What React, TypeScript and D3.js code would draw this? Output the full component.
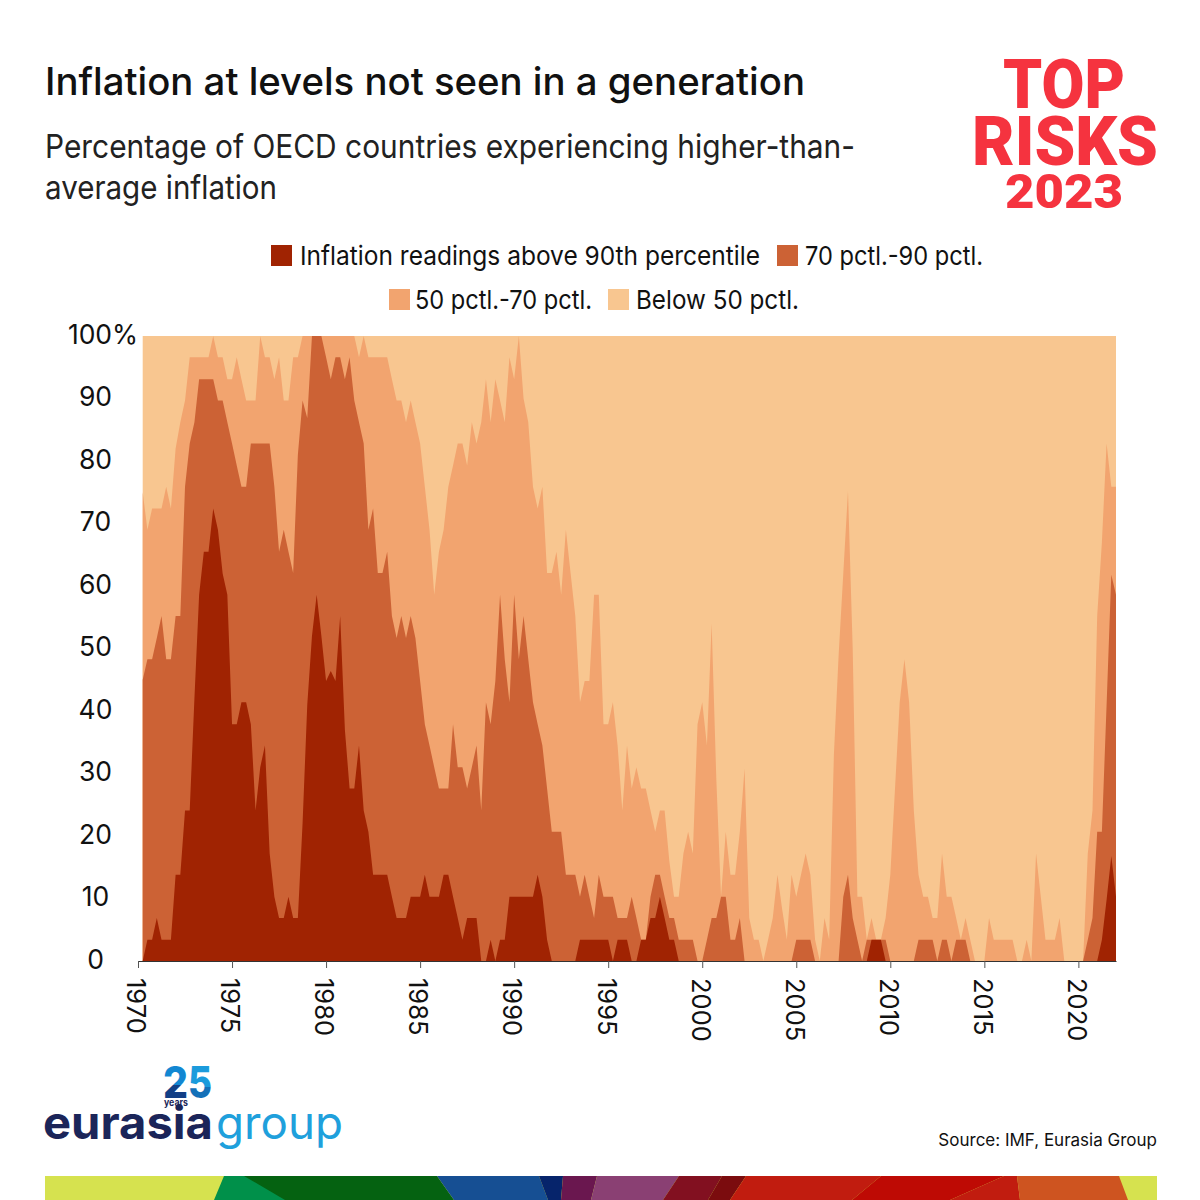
import React, { useEffect, useRef } from "react";
import * as d3 from "d3";

// Cumulative share of OECD countries (%), one reading per quarter from 1970 Q2
const above90 = [
  0, 3.4, 3.4, 6.9, 3.4, 3.4, 3.4, 13.8, 13.8, 24.1,
  24.1, 42, 58.6, 65.5, 65.5, 72.4, 69, 62, 58.6, 37.9,
  37.9, 41.4, 41.4, 37.9, 24.1, 31, 34.5, 17.2, 10.3, 6.9,
  6.9, 10.3, 6.9, 6.9, 22, 41, 52, 58.6, 52, 44.8,
  46.4, 44.8, 55.2, 37, 27.6, 27.6, 34.5, 24.1, 20.7, 13.8,
  13.8, 13.8, 13.8, 10.3, 6.9, 6.9, 6.9, 10.3, 10.3, 10.3,
  13.8, 10.3, 10.3, 10.3, 13.8, 13.8, 10.3, 6.9, 3.4, 6.9,
  6.9, 6.9, 0, 0, 3.4, 0, 3.4, 3.4, 10.3, 10.3,
  10.3, 10.3, 10.3, 10.3, 13.8, 10.3, 3.4, 0, 0, 0,
  0, 0, 0, 3.4, 3.4, 3.4, 3.4, 3.4, 3.4, 3.4,
  0, 3.4, 3.4, 3.4, 0, 0, 3.4, 3.4, 6.9, 6.9,
  10.3, 6.9, 3.4, 3.4, 0, 0, 0, 0, 0, 0,
  0, 0, 0, 0, 0, 0, 0, 0, 0, 0,
  0, 0, 0, 0, 0, 0, 0, 0, 0, 0,
  0, 0, 0, 0, 0, 0, 0, 0, 0, 0,
  0, 0, 0, 0, 0, 3.4, 3.4, 3.4, 0, 0,
  0, 0, 0, 0, 0, 0, 0, 0, 0, 0,
  0, 0, 0, 0, 0, 0, 0, 0, 0, 0,
  0, 0, 0, 0, 0, 0, 0, 0, 0, 0,
  0, 0, 0, 0, 0, 0, 0, 0, 0, 0,
  0, 0, 0, 0, 3.4, 9.8, 16.8, 10.3,
];

const above70 = [
  45, 48.3, 48.3, 51.7, 55.2, 48.3, 48.3, 55.2, 55.2, 75.9,
  82.8, 86.2, 93.1, 93.1, 93.1, 93.1, 89.7, 89.7, 86.2, 82.8,
  79.3, 75.9, 75.9, 82.8, 82.8, 82.8, 82.8, 82.8, 75.9, 65.5,
  69, 65.5, 62.1, 81, 89.7, 86.9, 100, 100, 100, 96.6,
  93.1, 96.6, 96.6, 93.1, 96.6, 89.7, 86.2, 82.8, 69, 72.4,
  62.1, 62.1, 65.5, 55.2, 51.7, 55.2, 51.7, 55.2, 51.7, 44.8,
  37.9, 34.5, 31, 27.6, 27.6, 27.6, 37.9, 31, 31, 27.6,
  31, 34.5, 24.1, 41.4, 37.9, 44.8, 58.6, 48.3, 41.4, 58.6,
  48.3, 55.2, 48.3, 41.4, 37.9, 34.5, 27.6, 20.7, 20.7, 20.7,
  13.8, 13.8, 13.8, 10.3, 13.8, 10.3, 6.9, 13.8, 10.3, 10.3,
  10.3, 6.9, 6.9, 6.9, 10.3, 6.9, 3.4, 3.4, 10.3, 13.8,
  13.8, 10.3, 6.9, 6.9, 3.4, 3.4, 3.4, 3.4, 0, 0,
  3.4, 6.9, 6.9, 10.3, 10.3, 3.4, 3.4, 6.9, 0, 0,
  0, 0, 0, 0, 0, 0, 0, 0, 0, 3.4,
  3.4, 3.4, 3.4, 0, 0, 0, 0, 0, 0, 10.3,
  13.8, 6.9, 3.4, 0, 3.4, 3.4, 3.4, 3.4, 3.4, 0,
  0, 0, 0, 0, 0, 3.4, 3.4, 3.4, 3.4, 0,
  3.4, 3.4, 0, 3.4, 3.4, 3.4, 0, 0, 0, 0,
  0, 0, 0, 0, 0, 0, 0, 0, 0, 0,
  0, 0, 0, 0, 0, 0, 0, 0, 0, 0,
  0, 3.4, 6.9, 20.7, 20.7, 41, 61.8, 58.6,
];

const above50 = [
  75, 69, 72.4, 72.4, 72.4, 75.9, 72.4, 82, 86.2, 89.7,
  96.6, 96.6, 96.6, 96.6, 96.6, 100, 96.6, 96.6, 93.1, 93.1,
  96.6, 93.1, 89.7, 89.7, 89.7, 100, 96.6, 96.6, 93.1, 96.6,
  89.7, 89.7, 96.6, 96.6, 100, 100, 100, 100, 100, 100,
  100, 100, 100, 100, 100, 100, 96.6, 100, 96.6, 96.6,
  96.6, 96.6, 96.6, 93.1, 89.7, 89.7, 86.2, 89.7, 86.2, 82.8,
  75.9, 69, 58.6, 65.5, 69, 75.9, 79.3, 82.8, 82.8, 79.3,
  86.2, 82.8, 86.2, 93.1, 86.2, 93.1, 89.7, 86.2, 96.6, 93.1,
  100, 90, 86.2, 75.9, 72.4, 75.9, 62.1, 62.1, 65.5, 58.6,
  69, 62.1, 55.2, 41.4, 44.8, 44.8, 58.6, 58.6, 37.9, 37.9,
  41.4, 34.5, 24.1, 34.5, 27.6, 31, 27.6, 27.6, 24.1, 20.7,
  24.1, 24.1, 16, 10.3, 10.3, 17.2, 20.7, 17.2, 37.9, 41.4,
  34.5, 54, 29, 10.3, 20.7, 13.8, 13.8, 20.7, 30.8, 6.9,
  3.4, 3.4, 0, 3.4, 6.9, 13.8, 8.3, 3.4, 13.8, 10.3,
  13.8, 17.2, 13.8, 3.4, 0, 6.9, 3.4, 33, 48.8, 62,
  75.2, 50, 10.3, 10.3, 3.4, 6.9, 3.4, 3.4, 6.9, 13.8,
  27.6, 41.4, 48.3, 41.4, 24.1, 13.8, 10.3, 10.3, 6.9, 6.9,
  17.2, 10.3, 10.3, 6.9, 3.4, 6.9, 3.4, 0, 0, 0,
  6.9, 3.4, 3.4, 3.4, 3.4, 3.4, 0, 0, 3.4, 0,
  17.2, 10.3, 3.4, 3.4, 3.4, 6.9, 0, 0, 0, 0,
  0, 17.2, 24.1, 55.2, 67, 82.8, 75.9, 75.9,
];

const allCountries = above50.map(() => 100);

const yearTicks = d3.range(1970, 2021, 5);
const percentTicks = d3.range(0, 101, 10);

const layers = [
  { values: allCountries, color: "#F8C690" },
  { values: above50, color: "#F2A46F" },
  { values: above70, color: "#CC6235" },
  { values: above90, color: "#A02302" },
];

// decorative colour strip at the foot of the page: [top left, top right, bottom right, bottom left]
const stripe: [string, number, number, number, number][] = [
  ["#D6E24F", 45, 1157, 1157, 45],
  ["#00904A", 224, 260, 300, 214],
  ["#056211", 244, 437, 454, 285],
  ["#164F93", 437, 539, 548, 454],
  ["#06246B", 539, 563, 561, 548],
  ["#6A174F", 563, 597, 591, 561],
  ["#8A4073", 597, 679, 663, 591],
  ["#821020", 679, 722, 708, 663],
  ["#7B0C0E", 722, 746, 730, 708],
  ["#C11C0F", 746, 881, 852, 730],
  ["#BE0A04", 881, 1004, 950, 852],
  ["#C11C0F", 1004, 1017, 1020, 950],
  ["#CE5420", 1017, 1119, 1128, 1020],
];

const font = "Inter, sans-serif";

const margin = { left: 138, right: 1116, top: 336, bottom: 961 };

const Legend: React.FC<{ x: number; y: number; color: string; label: string; textX: number; textW: number }> = ({
  x,
  y,
  color,
  label,
  textX,
  textW,
}) => (
  <g>
    <rect x={x} y={y} width={21} height={21} fill={color} />
    <text x={textX} y={y + 20} fontSize={26} fill="#111" textLength={textW} lengthAdjust="spacingAndGlyphs">
      {label}
    </text>
  </g>
);

export default function App() {
  const xAxisRef = useRef<SVGGElement>(null);
  const yAxisRef = useRef<SVGGElement>(null);

  const xScale = d3.scaleLinear().domain([1970, 2022]).range([margin.left, margin.right]);
  const yScale = d3.scaleLinear().domain([0, 100]).range([margin.bottom, margin.top]);

  const quarter = (i: number) => 1970.25 + i / 4;
  const areaPath = d3
    .area<number>()
    .x((_, i) => xScale(quarter(i)))
    .y0(yScale(0))
    .y1((d) => yScale(d));

  useEffect(() => {
    const xAxis = d3
      .axisBottom(xScale)
      .tickValues(yearTicks)
      .tickFormat(d3.format("d"))
      .tickSize(7)
      .tickSizeOuter(0);
    const gx = d3.select(xAxisRef.current!).call(xAxis as any);
    gx.select(".domain").attr("stroke", "#333").attr("stroke-width", 1.2);
    gx.selectAll(".tick line").attr("stroke", "#555");
    gx.selectAll<SVGTextElement, number>(".tick text")
      .attr("transform", "translate(-2,17) rotate(90)")
      .attr("x", 0)
      .attr("y", 0)
      .attr("dy", "0.36em")
      .attr("text-anchor", "start")
      .attr("font-family", font)
      .attr("font-size", 25.5)
      .attr("fill", "#111");

    const yAxis = d3
      .axisLeft(yScale)
      .tickValues(percentTicks)
      .tickSize(0)
      .tickFormat((d) => (d === 100 ? "100%" : String(d)));
    const gy = d3.select(yAxisRef.current!).call(yAxis as any);
    gy.select(".domain").remove();
    gy.selectAll<SVGTextElement, number>(".tick text")
      .attr("x", (d) => (d === 100 ? 103 : 95.5))
      .attr("y", -1)
      .attr("text-anchor", "middle")
      .attr("font-family", font)
      .attr("font-size", 26.5)
      .attr("fill", "#111");
  }, []);

  return (
    <svg
      width={1200}
      height={1200}
      viewBox="0 0 1200 1200"
      style={{ position: "absolute", top: 0, left: 0, background: "#fff" }}
      fontFamily={font}
    >
      <defs>
        <linearGradient id="two" x1="0" y1="0" x2="0" y2="1">
          <stop offset="0.55" stopColor="#1287D2" />
          <stop offset="0.55" stopColor="#123F86" />
        </linearGradient>
        <linearGradient id="five" x1="0" y1="0" x2="0" y2="1">
          <stop offset="0.6" stopColor="#1B9BDC" />
          <stop offset="0.6" stopColor="#1470B8" />
        </linearGradient>
      </defs>

      {/* Title block */}
      <text x={45} y={95} fontSize={38} fontWeight={500} fill="#111" textLength={760} lengthAdjust="spacingAndGlyphs">
        Inflation at levels not seen in a generation
      </text>
      <text x={45} y={158} fontSize={33} fill="#222" textLength={810} lengthAdjust="spacingAndGlyphs">
        Percentage of OECD countries experiencing higher-than-
      </text>
      <text x={45} y={199} fontSize={33} fill="#222" textLength={232} lengthAdjust="spacingAndGlyphs">
        average inflation
      </text>

      {/* Top Risks mark */}
      <g fontFamily="Roboto, sans-serif" fontWeight={900} fill="#F5333F">
        <text x={1003} y={108} fontSize={69} textLength={122} lengthAdjust="spacingAndGlyphs">TOP</text>
        <text x={972} y={165} fontSize={68} textLength={186} lengthAdjust="spacingAndGlyphs">RISKS</text>
        <text x={1005} y={208} fontSize={49} textLength={118} lengthAdjust="spacingAndGlyphs">2023</text>
      </g>

      {/* Legend */}
      <Legend x={271} y={245} color="#A02302" label="Inflation readings above 90th percentile" textX={300} textW={460} />
      <Legend x={777} y={245} color="#CC6235" label="70 pctl.-90 pctl." textX={805} textW={178} />
      <Legend x={389} y={289} color="#F2A46F" label="50 pctl.-70 pctl." textX={415} textW={177} />
      <Legend x={608} y={289} color="#F8C690" label="Below 50 pctl." textX={636} textW={163} />

      {/* Plot */}
      {layers.map((layer) => (
        <path key={layer.color} d={areaPath(layer.values) || ""} fill={layer.color} />
      ))}
      <g ref={xAxisRef} transform={`translate(0,${margin.bottom})`} />
      <g ref={yAxisRef} />

      {/* Eurasia Group mark */}
      <g fontWeight={800}>
        <text x={163} y={1098} fontSize={44} fill="url(#two)" textLength={25} lengthAdjust="spacingAndGlyphs">2</text>
        <text x={188} y={1098} fontSize={44} fill="url(#five)" textLength={24} lengthAdjust="spacingAndGlyphs">5</text>
      </g>
      <text x={164} y={1106} fontSize={9.5} fontWeight={700} fill="#1B2559" textLength={24} lengthAdjust="spacingAndGlyphs">years</text>
      <text x={43} y={1139} fontSize={45} fontWeight={700} fill="#1B2559" textLength={170} lengthAdjust="spacingAndGlyphs">eurasia</text>
      <text x={216} y={1139} fontSize={46} fontWeight={400} fill="#1FA0DC" textLength={127} lengthAdjust="spacingAndGlyphs">group</text>

      <text x={1157} y={1146} fontSize={17} textAnchor="end" fill="#111">Source: IMF, Eurasia Group</text>

      {/* Colour strip */}
      {stripe.map(([color, tl, tr, br, bl], i) => (
        <path key={i} d={`M${tl},1176L${tr},1176L${br},1200L${bl},1200Z`} fill={color} />
      ))}
    </svg>
  );
}
